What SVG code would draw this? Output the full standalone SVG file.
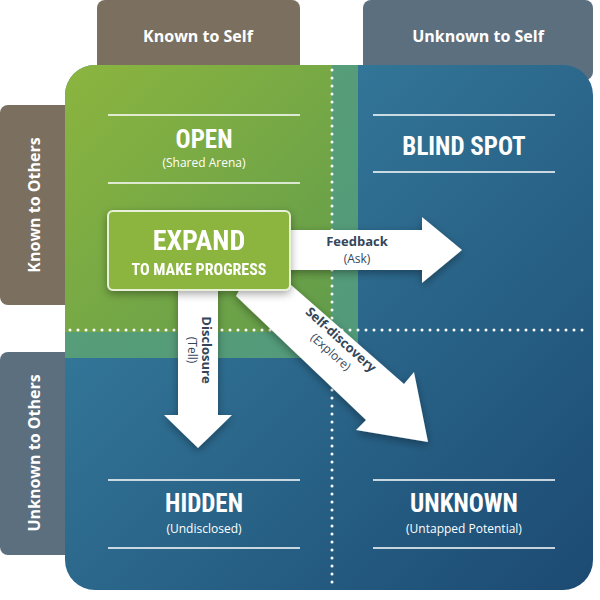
<svg xmlns="http://www.w3.org/2000/svg" width="600" height="600" viewBox="0 0 600 600">
<defs>
<linearGradient id="bg" x1="0" y1="0" x2="1" y2="1"><stop offset="0" stop-color="#3b86a6"/><stop offset="1" stop-color="#1c4a72"/></linearGradient>
<linearGradient id="gr" x1="0" y1="0" x2="1" y2="1"><stop offset="0" stop-color="#8cb53f"/><stop offset="1" stop-color="#5e9a4c"/></linearGradient>
<clipPath id="c"><rect x="65" y="65" width="528" height="525" rx="30"/></clipPath>
<filter id="sh" x="-20%" y="-20%" width="140%" height="140%"><feDropShadow dx="0" dy="3" stdDeviation="4" flood-opacity="0.35"/></filter>
</defs>
<style>
.tab{font-family:"Open Sans","Liberation Sans",sans-serif;font-weight:700;font-size:16px;fill:#fff;text-anchor:middle}
.h{font-family:"Liberation Sans Narrow","Roboto Condensed","Liberation Sans",sans-serif;font-weight:700;font-size:25px;fill:#fff;text-anchor:middle}
.s{font-family:"Open Sans","Liberation Sans",sans-serif;font-size:12px;fill:#fff;text-anchor:middle}
.ln{stroke:#fff;stroke-width:1.5}
.dot{stroke:#fff;stroke-width:3;stroke-dasharray:0 8;stroke-linecap:round}
.al{font-family:"Open Sans","Liberation Sans",sans-serif;font-weight:700;font-size:13px;fill:#33465a;text-anchor:middle}
.as{font-family:"Open Sans","Liberation Sans",sans-serif;font-size:12px;fill:#33465a;text-anchor:middle}
</style>
<g id="tab-known-self"><rect x="97" y="0" width="203" height="80" rx="8" fill="#7b6f5f"/><text class="tab" x="198" y="42">Known to Self</text></g>
<g id="tab-unknown-self"><rect x="363" y="0" width="230" height="80" rx="8" fill="#5c6f7f"/><text class="tab" x="478" y="42">Unknown to Self</text></g>
<g id="tab-known-others"><rect x="0" y="105" width="80" height="200" rx="8" fill="#7b6f5f"/><text class="tab" transform="translate(40,205) rotate(-90)">Known to Others</text></g>
<g id="tab-unknown-others"><rect x="0" y="352" width="80" height="203" rx="8" fill="#5c6f7f"/><text class="tab" transform="translate(40,453) rotate(-90)">Unknown to Others</text></g>
<g id="grid" clip-path="url(#c)">
<rect x="65" y="65" width="528" height="525" fill="url(#bg)"/>
<rect x="65" y="65" width="293" height="293" fill="url(#gr)"/>
<rect x="332" y="65" width="26" height="293" fill="#4f9a86" opacity="0.8"/>
<rect x="65" y="332" width="267" height="26" fill="#4f9a86" opacity="0.8"/>
<line class="dot" x1="332" y1="70" x2="332" y2="590"/>
<line class="dot" x1="70" y1="330" x2="590" y2="330"/>
</g>
<g id="open"><line class="ln" x1="108" y1="115" x2="300" y2="115"/><line class="ln" x1="108" y1="183" x2="300" y2="183"/><text class="h" x="204" y="148">OPEN</text><text class="s" x="204" y="167">(Shared Arena)</text></g>
<g id="blind"><line class="ln" x1="373" y1="115" x2="555" y2="115"/><line class="ln" x1="373" y1="172" x2="555" y2="172"/><text class="h" x="464" y="155">BLIND SPOT</text></g>
<g id="hidden"><line class="ln" x1="108" y1="480" x2="300" y2="480"/><line class="ln" x1="108" y1="548" x2="300" y2="548"/><text class="h" x="204" y="512">HIDDEN</text><text class="s" x="204" y="533">(Undisclosed)</text></g>
<g id="unknown"><line class="ln" x1="373" y1="480" x2="555" y2="480"/><line class="ln" x1="373" y1="548" x2="555" y2="548"/><text class="h" x="464" y="512">UNKNOWN</text><text class="s" x="464" y="533">(Untapped Potential)</text></g>
<g id="connectors" fill="#fff" filter="url(#sh)">
<polygon points="285,230 422,230 422,217 462,250 422,283 422,270 285,270"/>
<polygon points="178,285 218,285 218,415 232,415 198,448 164,415 178,415"/>
<polygon points="250,270 274,270 404,384 414,372 428,442 356,430 366,420 236,296"/>
</g>
<g id="connector-labels">
<text class="al" x="357" y="246">Feedback</text><text class="as" x="357" y="263">(Ask)</text>
<text class="al" transform="translate(202,350) rotate(90)">Disclosure</text><text class="as" transform="translate(188,350) rotate(90)">(Tell)</text>
<text class="al" transform="translate(338,343) rotate(42)">Self-discovery</text><text class="as" transform="translate(328,355) rotate(42)">(Explore)</text>
</g>
<g id="expand" filter="url(#sh)"><rect x="108" y="211" width="182" height="79" rx="5" fill="#8cb53f" stroke="#e8f0d8" stroke-width="2"/>
<text class="h" x="199" y="250" style="font-size:28px">EXPAND</text><text class="h" x="199" y="275" style="font-size:16px">TO MAKE PROGRESS</text></g>
</svg>
